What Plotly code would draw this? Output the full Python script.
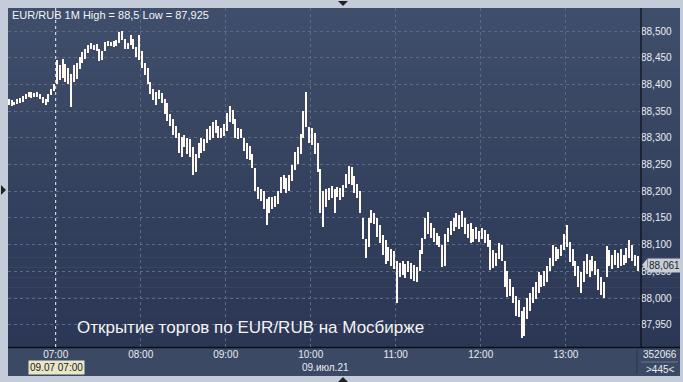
import pandas as pd
import plotly.graph_objects as go

# ---- data (2-minute bars) ----
start_time = "2021-07-09 06:27"
highs = [88.372,88.370,88.368,88.372,88.374,88.378,88.382,88.386,88.385,88.384,88.386,88.382,88.376,88.372,88.382,88.392,88.400,
         88.446,88.436,88.448,88.438,88.430,88.420,88.436,88.440,88.452,88.460,88.466,88.474,88.478,88.474,88.476,88.466,88.462,
         88.480,88.482,88.480,88.482,88.484,88.498,88.500,88.486,88.478,88.492,88.486,88.470,88.492,88.462,88.440,88.430,88.405,
         88.392,88.385,88.390,88.384,88.372,88.366,88.345,88.335,88.322,88.310,88.302,88.306,88.300,88.298,88.282,88.270,88.290,
         88.300,88.298,88.316,88.322,88.330,88.334,88.322,88.318,88.326,88.346,88.360,88.352,88.336,88.318,88.316,88.300,88.290,
         88.284,88.270,88.244,88.208,88.204,88.200,88.186,88.190,88.190,88.192,88.200,88.226,88.230,88.224,88.230,88.250,88.274,
         88.282,88.308,88.350,88.386,88.320,88.318,88.310,88.290,88.242,88.200,88.204,88.206,88.210,88.204,88.208,88.206,88.212,
         88.232,88.247,88.246,88.228,88.214,88.200,88.150,88.110,88.150,88.165,88.160,88.150,88.136,88.118,88.108,88.096,88.092,
         88.088,88.070,88.066,88.070,88.064,88.070,88.066,88.062,88.058,88.090,88.112,88.150,88.162,88.140,88.132,88.122,88.116,
         88.100,88.120,88.132,88.144,88.150,88.160,88.156,88.164,88.150,88.138,88.140,88.130,88.134,88.126,88.132,88.128,88.120,
         88.108,88.090,88.084,88.104,88.100,88.070,88.050,88.036,88.020,88.004,87.996,87.976,87.984,88.000,88.010,88.020,88.030,
         88.048,88.044,88.050,88.060,88.076,88.100,88.096,88.092,88.100,88.120,88.137,88.106,88.092,88.070,88.060,88.048,88.070,
         88.082,88.072,88.078,88.070,88.054,88.040,88.030,88.098,88.090,88.080,88.090,88.084,88.092,88.080,88.094,88.108,88.100,
         88.080,88.078,88.070]
lows = [88.362,88.360,88.362,88.364,88.366,88.368,88.372,88.376,88.374,88.376,88.377,88.372,88.366,88.361,88.368,88.380,88.388,
        88.400,88.408,88.412,88.404,88.400,88.358,88.404,88.410,88.428,88.440,88.448,88.458,88.466,88.464,88.462,88.444,88.446,
        88.462,88.472,88.472,88.470,88.472,88.478,88.484,88.466,88.466,88.474,88.466,88.452,88.446,88.430,88.418,88.400,88.382,
        88.370,88.362,88.372,88.366,88.344,88.332,88.322,88.306,88.300,88.272,88.264,88.282,88.270,88.264,88.230,88.236,88.262,
        88.272,88.276,88.290,88.296,88.300,88.310,88.300,88.300,88.304,88.312,88.330,88.326,88.300,88.298,88.300,88.276,88.260,
        88.258,88.244,88.200,88.186,88.182,88.166,88.137,88.160,88.166,88.170,88.176,88.196,88.204,88.196,88.200,88.220,88.240,
        88.252,88.270,88.300,88.320,88.290,88.286,88.270,88.236,88.160,88.133,88.170,88.184,88.188,88.160,88.190,88.184,88.190,
        88.206,88.214,88.212,88.196,88.188,88.160,88.110,88.075,88.096,88.140,88.138,88.114,88.104,88.080,88.064,88.070,88.060,
        88.054,87.990,88.040,88.044,88.038,88.048,88.036,88.032,88.030,88.050,88.082,88.110,88.120,88.112,88.106,88.100,88.096,
        88.058,88.060,88.106,88.118,88.126,88.134,88.130,88.134,88.120,88.112,88.104,88.106,88.110,88.106,88.110,88.104,88.096,
        88.052,88.056,88.060,88.074,88.070,88.020,88.002,88.004,87.990,87.966,87.964,87.925,87.930,87.960,87.976,87.990,87.998,
        88.010,88.020,88.022,88.030,88.050,88.060,88.070,88.074,88.078,88.090,88.096,88.068,88.060,88.042,88.020,88.010,88.030,
        88.046,88.040,88.050,88.044,88.016,88.006,88.000,88.040,88.060,88.054,88.062,88.056,88.060,88.062,88.066,88.076,88.070,
        88.060,88.050,88.056]
last_price = 88.061
y_ticks = [87.95, 88.0, 88.05, 88.1, 88.15, 88.2, 88.25, 88.3, 88.35, 88.4, 88.45, 88.5]
y_ticklabels = ["87,950", "88,000", "88,050", "88,100", "88,150", "88,200",
                "88,250", "88,300", "88,350", "88,400", "88,450", "88,500"]
x_ticks = ["2021-07-09 07:00", "2021-07-09 08:00", "2021-07-09 09:00", "2021-07-09 10:00",
           "2021-07-09 11:00", "2021-07-09 12:00", "2021-07-09 13:00"]
x_ticklabels = ["07:00", "08:00", "09:00", "10:00", "11:00", "12:00", "13:00"]
title_text = "EUR/RUB 1M High = 88,5 Low = 87,925"
caption = "Открытие торгов по EUR/RUB на Мосбирже"
date_label = "09.июл.21"
cursor_label = "09.07 07:00"
bar_count = "352066"
visible_count = ">445<"

n = min(len(highs), len(lows))
times = pd.date_range(start_time, periods=n, freq="2min")
heights = [h - l for h, l in zip(highs[:n], lows[:n])]

W, H = 683, 382
L, R, T, B = 8, 640, 8, 347


def px(x):
    return (x - L) / (R - L)


def py(y):
    return (B - y) / (B - T)


fig = go.Figure()
fig.add_trace(go.Bar(
    x=times, y=heights, base=lows[:n], width=64000,
    marker=dict(color="#fff9f2", line=dict(width=0)),
    hoverinfo="skip", showlegend=False,
))

shapes = []
# gradient background of chart + right panel
N = 34
top_c = (63, 78, 106)
bot_c = (43, 55, 84)
for i in range(N):
    f = i / (N - 1)
    c = tuple(round(top_c[j] + (bot_c[j] - top_c[j]) * f) for j in range(3))
    y0 = T + (B - T) * i / N
    y1 = T + (B - T) * (i + 1) / N + 0.6
    shapes.append(dict(type="rect", xref="paper", yref="paper", layer="below",
                       x0=px(L), x1=px(680), y0=py(y1), y1=py(y0),
                       fillcolor="rgb(%d,%d,%d)" % c, line=dict(width=0)))
# bottom axis band
shapes.append(dict(type="rect", xref="paper", yref="paper", layer="below",
                   x0=px(L), x1=px(680), y0=py(376), y1=py(B),
                   fillcolor="#3c4964", line=dict(width=0)))
# separators
shapes.append(dict(type="line", xref="paper", yref="paper", x0=px(L), x1=px(680),
                   y0=py(347.5), y1=py(347.5), line=dict(color="#0b0f18", width=1.5)))
shapes.append(dict(type="line", xref="paper", yref="paper", x0=px(641), x1=px(641),
                   y0=py(347.5), y1=py(T), line=dict(color="#0b0f18", width=1.2)))
shapes.append(dict(type="line", xref="paper", yref="paper", x0=px(637), x1=px(637),
                   y0=py(374), y1=py(350), line=dict(color="#2a3448", width=1)))
shapes.append(dict(type="line", xref="paper", yref="paper", x0=px(641), x1=px(678),
                   y0=py(362), y1=py(362), line=dict(color="#6b7890", width=1)))
# crosshair dotted line at cursor
shapes.append(dict(type="line", xref="x", yref="paper", x0=x_ticks[0], x1=x_ticks[0],
                   y0=0, y1=1, line=dict(color="#e8ecf4", width=1, dash="dot")))
# little frame arrows
shapes.append(dict(type="path", xref="paper", yref="paper",
                   path="M %f %f L %f %f L %f %f Z" % (px(338), py(1), px(348), py(1), px(343), py(6)),
                   fillcolor="#222", line=dict(width=0)))
shapes.append(dict(type="path", xref="paper", yref="paper",
                   path="M %f %f L %f %f L %f %f Z" % (px(338), py(382), px(348), py(382), px(343), py(377)),
                   fillcolor="#222", line=dict(width=0)))
shapes.append(dict(type="path", xref="paper", yref="paper",
                   path="M %f %f L %f %f L %f %f Z" % (px(1), py(185), px(1), py(195), px(6), py(190)),
                   fillcolor="#222", line=dict(width=0)))
# price marker arrow
shapes.append(dict(type="path", xref="paper", yref="paper",
                   path="M %f %f L %f %f L %f %f Z" % (px(642), py(265), px(647), py(259), px(647), py(271)),
                   fillcolor="#c9cdd4", line=dict(width=0)))

font = "Liberation Sans, Arial, sans-serif"
annotations = [
    dict(text=title_text, xref="paper", yref="paper", x=px(10), y=py(15), xanchor="left",
         yanchor="middle", showarrow=False, font=dict(family=font, size=11, color="#f2f4f8")),
    dict(text=caption, xref="paper", yref="paper", x=px(75), y=py(327), xanchor="left",
         yanchor="middle", showarrow=False, font=dict(family=font, size=17, color="#f4f4f4")),
    dict(text=date_label, xref="paper", yref="paper", x=px(325), y=py(367), xanchor="center",
         yanchor="middle", showarrow=False, font=dict(family=font, size=10, color="#e8ecf2")),
    dict(text=cursor_label, xref="paper", yref="paper", x=px(56.5), y=py(367), xanchor="center",
         yanchor="middle", showarrow=False, bgcolor="#e9e6c9", borderpad=1,
         font=dict(family=font, size=10, color="#1a1a1a")),
    dict(text=bar_count, xref="paper", yref="paper", x=px(660), y=py(355), xanchor="center",
         yanchor="middle", showarrow=False, font=dict(family=font, size=10, color="#e8ecf2")),
    dict(text=visible_count, xref="paper", yref="paper", x=px(660), y=py(369), xanchor="center",
         yanchor="middle", showarrow=False, font=dict(family=font, size=10, color="#e8ecf2")),
    dict(text=("%.3f" % last_price).replace(".", ","), xref="paper", yref="y", x=px(647), y=last_price,
         xanchor="left", yanchor="middle", showarrow=False, bgcolor="#c9cdd4", borderpad=1,
         font=dict(family=font, size=10, color="#1a1f2a")),
]

fig.update_layout(
    width=W, height=H,
    margin=dict(l=L, r=W - R, t=T, b=H - B, pad=0),
    paper_bgcolor="#c3ccd8",
    plot_bgcolor="rgba(0,0,0,0)",
    bargap=0,
    shapes=shapes,
    annotations=annotations,
    xaxis=dict(
        type="date",
        range=["2021-07-09 06:26:20", "2021-07-09 13:52:25"],
        tickvals=x_ticks, ticktext=x_ticklabels,
        showgrid=True, gridcolor="#5c6a87", griddash="dot", gridwidth=1,
        zeroline=False, showline=False, ticks="",
        tickfont=dict(family=font, size=10, color="#e8ecf2"),
        fixedrange=True,
    ),
    yaxis=dict(
        side="right",
        range=[87.9085, 88.5431],
        tickvals=y_ticks, ticktext=y_ticklabels,
        showgrid=True, gridcolor="#5c6a87", griddash="dot", gridwidth=1,
        zeroline=False, showline=False, ticks="",
        tickfont=dict(family=font, size=10, color="#e8ecf2"),
        fixedrange=True,
    ),
)

fig.write_html("out.html")
